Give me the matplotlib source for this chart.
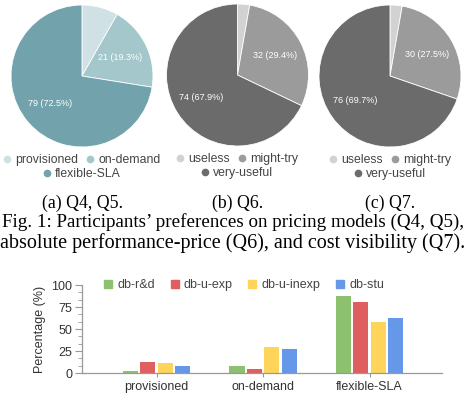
import numpy as np
import matplotlib.pyplot as plt
from matplotlib.lines import Line2D

plt.rcParams['font.family'] = ['Liberation Sans', 'DejaVu Sans']

# pie data
pie_a_labels = ['provisioned', 'on-demand', 'flexible-SLA']
pie_a_counts = [9, 21, 79]
pie_a_colors = ['#cfe1e4', '#a4c7cc', '#72a3ad']

pie_b_labels = ['useless', 'might-try', 'very-useful']
pie_b_counts = [3, 32, 74]
pie_c_counts = [3, 30, 76]
pie_grey_colors = ['#d2d2d2', '#9b9b9b', '#6b6b6b']

captions = ['(a) Q4, Q5.', '(b) Q6.', '(c) Q7.']

# bar data
categories = ['provisioned', 'on-demand', 'flexible-SLA']
groups = ['db-r&d', 'db-u-exp', 'db-u-inexp', 'db-stu']
values = {
    'db-r&d': [2.5, 8.5, 88],
    'db-u-exp': [12, 5, 81],
    'db-u-inexp': [11, 30, 58],
    'db-stu': [8.5, 27, 63],
}
bar_colors = ['#8cc16f', '#df5f5f', '#fed55a', '#6598e8']

W, H = 474, 395
fig = plt.figure(figsize=(W / 100, H / 100), dpi=100)


def px_axes(left, top, width, height):
    return fig.add_axes([left / W, 1 - (top + height) / H, width / W, height / H])


def autopct_fmt(counts):
    total = sum(counts)

    def f(p):
        if p < 10:
            return ''
        return '%d (%.1f%%)' % (round(p * total / 100), p)
    return f


def draw_pie(cx, cy, counts, colors, labels, caption):
    r = 71
    ax = px_axes(cx - r, cy - r, 2 * r, 2 * r)
    ax.pie(counts, colors=colors, startangle=90, counterclock=False,
           autopct=autopct_fmt(counts), pctdistance=0.6,
           wedgeprops=dict(edgecolor='white', linewidth=0.6),
           textprops=dict(color='white', fontsize=6.5))
    ax.set_xlim(-1, 1)
    ax.set_ylim(-1, 1)
    ax.set_aspect('equal')
    handles = [Line2D([], [], marker='o', ls='', color=c, markersize=4.5) for c in colors]
    leg1 = ax.legend(handles[:2], labels[:2], ncol=2, loc='center',
                     bbox_to_anchor=(0.5, -0.095), frameon=False, fontsize=8.8,
                     handlelength=0.6, handletextpad=0.35, columnspacing=0.7,
                     labelcolor='#444444', borderpad=0)
    ax.add_artist(leg1)
    ax.legend(handles[2:], labels[2:], loc='center', bbox_to_anchor=(0.5, -0.19),
              frameon=False, fontsize=8.8, handlelength=0.6, handletextpad=0.35,
              labelcolor='#444444', borderpad=0)
    fig.text(cx / W, 1 - 203 / H, caption, ha='center', va='center',
             family='Liberation Serif', fontsize=12.8)


draw_pie(82, 76, pie_a_counts, pie_a_colors, pie_a_labels, captions[0])
draw_pie(237.5, 75, pie_b_counts, pie_grey_colors, pie_b_labels, captions[1])
draw_pie(390, 76, pie_c_counts, pie_grey_colors, pie_b_labels, captions[2])

fig.text(2 / W, 1 - 222 / H,
         'Fig. 1: Participants\u2019 preferences on pricing models (Q4, Q5),',
         ha='left', va='center', family='Liberation Serif', fontsize=13.7)
fig.text(0 / W, 1 - 243 / H,
         'absolute performance-price (Q6), and cost visibility (Q7).',
         ha='left', va='center', family='Liberation Serif', fontsize=14.5)

# bar chart
ax = px_axes(82, 285, 360, 88)
x = np.arange(len(categories))
pitch = 0.163
width = 0.142
for i, g in enumerate(groups):
    ax.bar(x + (i - 1.5) * pitch, values[g], width, color=bar_colors[i], label=g)

ax.set_xlim(-0.70, 2.68)
ax.set_ylim(0, 100)
ax.set_yticks([0, 25, 50, 75, 100])
ax.set_yticks(np.arange(0, 100, 25 / 3), minor=True)
ax.set_xticks(x)
ax.set_xticklabels(categories)
for s in ['top', 'right']:
    ax.spines[s].set_visible(False)
for s in ['left', 'bottom']:
    ax.spines[s].set_color('#999999')
    ax.spines[s].set_linewidth(0.9)
ax.tick_params(axis='y', colors='#999999', labelcolor='#333333', labelsize=9, length=5, pad=2)
ax.tick_params(axis='y', which='minor', colors='#999999', length=3)
ax.tick_params(axis='x', colors='#999999', labelcolor='#333333', labelsize=9, length=3, pad=3)
ax.set_ylabel('Percentage (%)', fontsize=9, color='#333333', labelpad=4)

handles = [Line2D([], [], marker='s', ls='', color=c, markersize=6) for c in bar_colors]
ax.legend(handles, groups, ncol=4, loc='center', bbox_to_anchor=(0.45, 1.0),
          frameon=False, fontsize=9, handlelength=0.7, handletextpad=0.4,
          columnspacing=1.2, labelcolor='#444444', borderpad=0)

fig.savefig('out.png', dpi=100)
